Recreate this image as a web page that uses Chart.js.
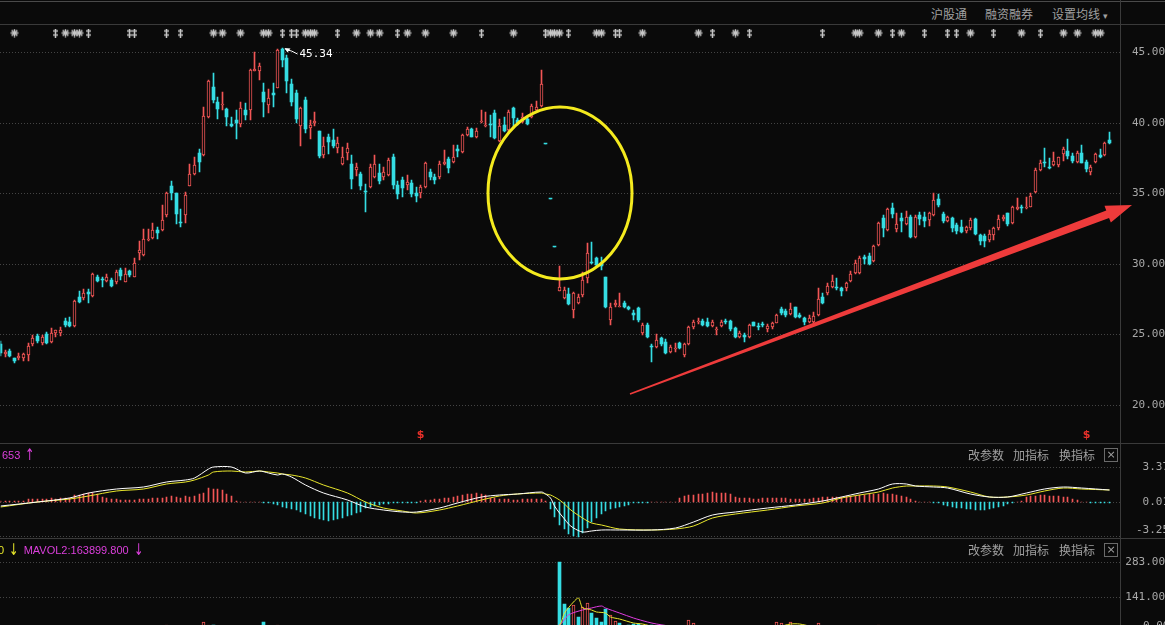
<!DOCTYPE html>
<html>
<head>
<meta charset="utf-8">
<script src="https://cdn.jsdelivr.net/npm/chart.js@4.4.1/dist/chart.umd.min.js"></script>
<style>
  body { margin: 0; background: #0a0a0a; width: 1165px; height: 625px; overflow: hidden; position: relative; font-family: "Noto Sans CJK SC", sans-serif; }
  .a { position: absolute; white-space: nowrap; }
  .hline { position: absolute; left: 0; width: 1165px; height: 1px; background: #3a3a3a; }
  .menu { color: #a0a0a0; font-size: 12px; line-height: 14px; }
  .num { font-family: "Liberation Sans", sans-serif; font-size: 11px; line-height: 13px; }
  .arr { display: inline-block; font: 16px/13px "DejaVu Sans", sans-serif; transform: scaleX(0.7); vertical-align: -1px; }
  .box { position: absolute; width: 12px; height: 12px; border: 1px solid #6a6a6a; color: #a0a0a0; font: 11px/12px "DejaVu Sans", sans-serif; text-align: center; }
  canvas { position: absolute; left: 0; }
</style>
</head>
<body>
<div class="hline" style="top:1px;background:#4a4a4a"></div>
<div class="hline" style="top:24px"></div>
<div class="hline" style="top:443px"></div>
<div class="hline" style="top:538px"></div>
<div class="a" style="left:1120px;top:0;width:1px;height:625px;background:#3a3a3a"></div>

<div class="a menu" style="left:931px;top:7px">沪股通</div>
<div class="a menu" style="left:985px;top:7px">融资融券</div>
<div class="a menu" style="left:1052px;top:7px">设置均线 <span style="font-size:9px">▾</span></div>

<canvas id="main" width="1165" height="419" style="top:24px"></canvas>
<canvas id="macd" width="1165" height="94" style="top:444px"></canvas>
<canvas id="vol" width="1165" height="86" style="top:539px"></canvas>

<div class="a num" style="left:2px;top:448px;color:#dd3fdd">653 <span class="arr">↑</span></div>
<div class="a menu" style="left:968px;top:448px">改参数</div>
<div class="a menu" style="left:1013px;top:448px">加指标</div>
<div class="a menu" style="left:1059px;top:448px">换指标</div>
<div class="box" style="left:1104px;top:448px">×</div>

<div class="a num" style="left:-2px;top:543px"><span style="color:#e6e62a">0 <span class="arr">↓</span></span> <span style="color:#dd3fdd">MAVOL2:163899.800 <span class="arr">↓</span></span></div>
<div class="a menu" style="left:968px;top:543px">改参数</div>
<div class="a menu" style="left:1013px;top:543px">加指标</div>
<div class="a menu" style="left:1059px;top:543px">换指标</div>
<div class="box" style="left:1104px;top:543px">×</div>
<div class="a" style="left:1143px;top:619px;color:#a8a8a8;font:11px 'DejaVu Sans Mono',monospace">0.00</div>

<script>
// daily candles, left to right
const open = [
  24.3, 23.6, 23.8, 23.3, 23.3, 23.3, 23.55, 24.3, 24.9, 24.4,
  25.05, 24.45, 25.1, 25.1, 25.95, 25.9, 25.6, 27.65, 27.55, 28.0,
  27.7, 29.1, 28.95, 28.8, 28.85, 28.7, 29.55, 28.75, 29.5, 29.1,
  30.75, 30.65, 31.7, 31.85, 32.4, 32.4, 33.5, 35.5, 35.0, 33.0,
  33.5, 35.55, 36.4, 37.9, 37.7, 40.4, 42.58, 41.5, 41.25, 41.0,
  39.9, 40.2, 39.93, 40.9, 40.9, 43.7, 43.7, 42.2, 41.3, 42.15,
  42.5, 45.25, 44.6, 42.75, 42.15, 39.8, 41.6, 39.62, 39.97, 39.4,
  37.7, 39.0, 38.8, 38.25, 37.1, 37.85, 37.1, 36.67, 36.38, 35.2,
  35.43, 36.15, 36.43, 36.2, 36.3, 37.6, 35.6, 35.96, 35.6, 35.72,
  35.01, 35.01, 35.48, 36.55, 36.19, 36.15, 37.1, 37.42, 37.26, 38.13,
  37.97, 39.15, 39.55, 39.03, 40.05, 39.79, 39.96, 40.69, 38.75, 39.86,
  39.5, 41.04, 40.21, 40.1, 40.26, 40.45, 40.92, 41.23, 38.49, 34.64,
  31.18, 28.06, 27.57, 27.87, 26.74, 27.26, 27.8, 28.98, 30.17, 30.4,
  30.05, 29.05, 26.03, 27.12, 26.95, 27.21, 26.97, 26.55, 26.86, 25.08,
  25.67, 24.18, 24.09, 24.73, 24.49, 23.78, 23.95, 24.37, 23.55, 24.33,
  25.51, 25.89, 25.98, 25.91, 25.60, 25.32, 25.60, 25.98, 25.96, 25.48,
  24.80, 24.96, 24.80, 25.86, 25.63, 25.74, 25.37, 25.51, 25.84, 26.78,
  26.67, 26.45, 26.93, 26.38, 26.15, 25.91, 25.91, 26.38, 27.68, 27.92,
  28.39, 28.35, 28.27, 28.27, 28.82, 29.34, 29.39, 30.52, 30.57, 30.24,
  31.35, 33.24, 32.41, 33.95, 32.46, 33.24, 32.84, 33.36, 31.89, 33.48,
  33.36, 33.12, 33.48, 34.59, 33.55, 33.07, 33.24, 32.77, 32.60, 32.34,
  32.53, 33.17, 32.06, 31.99, 31.70, 32.06, 32.53, 33.17, 33.59, 32.93,
  33.88, 34.07, 33.95, 34.07, 35.13, 36.67, 37.26, 36.90, 37.02, 37.02,
  37.80, 38.04, 37.66, 37.26, 37.85, 37.26, 36.55, 37.26, 37.73, 37.73,
  38.79
];
const high = [
  24.5, 23.9, 24.0, 23.35, 23.65, 23.7, 24.4, 24.95, 25.0, 24.95,
  25.2, 25.45, 25.35, 25.5, 26.2, 26.25, 27.45, 28.05, 28.25, 28.25,
  29.35, 29.2, 29.1, 29.3, 29.0, 29.55, 29.7, 29.7, 29.6, 30.45,
  31.6, 32.5, 32.5, 32.9, 32.65, 34.2, 35.1, 35.9, 35.05, 33.9,
  35.1, 37.1, 37.6, 38.15, 41.15, 43.05, 43.55, 41.85, 42.2, 41.05,
  40.45, 40.9, 41.5, 41.4, 43.8, 45.0, 44.25, 42.85, 42.4, 42.85,
  45.25, 45.34, 44.8, 43.15, 42.35, 41.15, 41.85, 40.2, 40.8, 39.45,
  39.0, 39.2, 39.55, 39.0, 38.3, 38.55, 37.75, 37.15, 36.55, 35.7,
  37.1, 37.75, 37.1, 36.85, 37.5, 37.8, 35.9, 36.19, 36.3, 35.96,
  35.48, 35.6, 37.26, 36.7, 36.38, 37.33, 38.09, 37.56, 38.44, 38.44,
  39.2, 39.74, 39.67, 39.62, 40.92, 40.8, 40.57, 40.92, 40.26, 40.45,
  40.92, 41.16, 40.33, 40.69, 40.4, 41.35, 41.58, 43.76, 38.49, 34.64,
  31.18, 29.86, 28.35, 28.27, 28.04, 27.87, 29.46, 31.47, 31.58, 30.52,
  30.52, 29.1, 27.21, 27.45, 27.92, 27.38, 27.02, 26.74, 26.97, 25.79,
  25.79, 24.33, 25.04, 24.8, 24.66, 24.26, 24.37, 24.45, 24.42, 25.60,
  26.03, 26.15, 26.08, 26.15, 26.03, 25.56, 26.03, 26.08, 26.03, 25.56,
  25.27, 25.08, 25.74, 25.91, 25.79, 25.91, 25.74, 25.91, 26.45, 26.97,
  26.78, 27.21, 26.97, 26.50, 26.26, 26.38, 26.62, 28.27, 27.92, 28.63,
  29.22, 28.98, 28.39, 28.75, 29.53, 30.28, 30.57, 30.64, 30.80, 31.35,
  33.00, 33.48, 33.95, 34.30, 33.64, 33.59, 33.78, 33.48, 33.48, 33.71,
  33.71, 33.71, 35.01, 34.96, 33.71, 33.40, 33.36, 32.88, 33.12, 32.70,
  33.24, 33.24, 32.13, 32.13, 32.41, 32.60, 33.48, 33.48, 33.64, 34.11,
  34.66, 34.18, 34.78, 35.01, 36.78, 37.38, 38.20, 37.49, 37.97, 37.61,
  38.27, 38.84, 37.85, 38.04, 38.44, 37.38, 37.02, 37.89, 38.13, 38.68,
  39.39
];
const low = [
  23.5, 23.4, 23.4, 23.0, 23.2, 23.15, 23.15, 24.2, 24.4, 24.25,
  24.3, 24.4, 24.85, 24.9, 25.5, 25.5, 25.5, 27.2, 27.45, 27.2,
  27.65, 28.7, 28.35, 28.7, 28.35, 28.6, 28.85, 28.7, 29.05, 29.05,
  30.25, 30.55, 31.65, 31.8, 31.75, 32.35, 33.35, 34.55, 32.85, 32.6,
  32.9, 35.5, 36.3, 36.5, 37.65, 40.33, 41.45, 40.25, 40.9, 39.75,
  39.7, 38.85, 39.7, 40.2, 40.2, 43.7, 43.05, 40.4, 40.7, 41.15,
  42.45, 44.0, 42.1, 41.2, 40.0, 38.35, 39.3, 38.85, 39.8, 37.55,
  37.55, 37.8, 38.25, 37.9, 37.0, 37.4, 35.35, 36.25, 35.25, 33.65,
  35.37, 36.1, 35.7, 35.95, 36.25, 35.3, 34.6, 34.78, 35.25, 34.78,
  34.42, 34.66, 35.37, 35.96, 35.67, 36.0, 37.02, 36.43, 37.19, 37.61,
  37.9, 39.08, 38.98, 38.96, 39.98, 39.74, 39.03, 38.84, 38.68, 39.39,
  39.39, 39.62, 39.86, 39.98, 39.86, 40.33, 40.8, 41.16, 38.49, 34.64,
  31.18, 28.06, 27.5, 27.09, 26.15, 27.16, 27.68, 28.68, 30.0, 29.81,
  29.57, 26.85, 25.67, 26.97, 26.92, 26.85, 26.74, 26.03, 25.91, 24.96,
  24.73, 23.07, 24.02, 24.18, 23.61, 23.66, 23.78, 23.95, 23.43, 24.26,
  25.37, 25.74, 25.60, 25.56, 25.51, 24.96, 25.56, 25.72, 25.27, 24.73,
  24.73, 24.49, 24.73, 25.60, 25.32, 25.56, 25.20, 25.37, 25.79, 26.38,
  26.22, 26.38, 26.15, 26.15, 25.67, 25.84, 25.79, 26.31, 27.16, 27.80,
  28.27, 28.16, 27.73, 28.11, 28.75, 29.29, 29.29, 30.00, 29.93, 30.17,
  31.28, 31.94, 32.34, 33.24, 32.29, 32.29, 32.77, 31.87, 31.82, 32.77,
  32.65, 32.70, 33.40, 34.07, 32.88, 33.00, 32.29, 32.13, 32.17, 32.22,
  32.41, 32.06, 31.35, 31.23, 31.58, 31.70, 32.41, 33.07, 32.70, 32.84,
  33.83, 33.64, 33.88, 34.02, 35.06, 36.62, 36.90, 36.71, 36.95, 36.90,
  37.33, 37.42, 37.19, 37.19, 37.14, 36.55, 36.31, 37.19, 37.49, 37.66,
  38.51
];
const close = [
  23.7, 23.75, 23.5, 23.15, 23.5, 23.6, 24.2, 24.75, 24.5, 24.85,
  24.4, 25.1, 25.3, 25.35, 25.65, 25.6, 27.4, 27.3, 27.95, 27.9,
  29.3, 28.8, 28.85, 29.1, 28.45, 29.4, 29.15, 29.3, 29.2, 30.1,
  31.0, 31.8, 31.8, 32.4, 32.2, 33.15, 35.0, 35.05, 33.55, 32.9,
  34.9, 36.4, 37.0, 37.25, 40.5, 43.0, 41.6, 41.0, 41.35, 40.45,
  39.8, 39.97, 41.05, 40.55, 43.75, 43.8, 44.05, 41.5, 41.75, 42.0,
  45.2, 44.45, 42.95, 41.5, 40.25, 41.05, 39.55, 39.85, 40.15, 37.65,
  38.35, 38.65, 38.35, 38.55, 37.6, 38.2, 36.05, 36.85, 35.5, 35.1,
  36.85, 37.1, 35.85, 36.55, 37.4, 35.6, 34.95, 35.37, 35.84, 34.96,
  34.8, 35.48, 37.14, 36.15, 35.96, 37.1, 37.26, 36.78, 37.61, 37.99,
  39.15, 39.55, 39.03, 39.46, 40.1, 39.86, 39.85, 38.91, 39.79, 39.46,
  40.8, 40.33, 39.98, 40.45, 39.93, 41.2, 41.16, 42.74, 38.49, 34.64,
  31.18, 28.39, 28.16, 27.16, 27.92, 27.64, 28.87, 30.76, 30.05, 29.93,
  29.86, 26.92, 26.97, 27.21, 27.04, 26.97, 26.79, 26.38, 26.03, 25.67,
  24.85, 24.09, 24.61, 24.33, 23.71, 24.14, 24.06, 24.02, 24.33, 25.51,
  25.91, 25.98, 25.67, 25.60, 25.91, 25.37, 25.91, 25.89, 25.37, 24.85,
  25.13, 24.85, 25.67, 25.63, 25.51, 25.70, 25.60, 25.84, 26.38, 26.55,
  26.38, 26.78, 26.22, 26.26, 25.91, 26.15, 26.31, 27.49, 27.26, 28.44,
  28.82, 28.27, 28.11, 28.63, 29.29, 30.05, 30.40, 30.33, 30.00, 31.28,
  32.93, 32.53, 33.88, 33.55, 32.84, 33.07, 33.36, 31.94, 33.36, 33.17,
  33.07, 33.64, 34.54, 34.18, 33.07, 33.31, 32.53, 32.36, 32.27, 32.65,
  33.12, 32.13, 31.65, 31.65, 32.13, 32.53, 33.17, 33.31, 32.84, 34.07,
  34.02, 33.95, 34.02, 34.82, 36.67, 37.14, 37.14, 36.78, 37.33, 37.56,
  38.13, 37.66, 37.33, 37.89, 37.19, 36.71, 36.90, 37.80, 37.56, 38.61,
  38.56
];
// volume (the panel only shows the larger days)
const volume = [
  14, 12, 13, 11, 12, 12, 16, 17, 15, 14,
  15, 16, 13, 13, 15, 14, 22, 18, 16, 15,
  21, 15, 13, 13, 14, 16, 14, 15, 12, 18,
  20, 23, 17, 19, 15, 24, 26, 22, 25, 18,
  24, 23, 20, 22, 38, 26, 27, 21, 18, 19,
  15, 20, 21, 17, 25, 24, 19, 38, 22, 19,
  26, 24, 23, 21, 22, 24, 20, 16, 14, 19,
  15, 14, 13, 13, 14, 13, 18, 12, 14, 17,
  16, 15, 13, 12, 14, 16, 14, 13, 12, 13,
  12, 12, 18, 13, 11, 14, 13, 12, 14, 12,
  17, 15, 13, 12, 16, 14, 15, 18, 16, 13,
  16, 15, 12, 12, 11, 15, 13, 24, 6, 8,
  10, 283, 111, 98, 108, 61, 102, 115, 75, 54,
  41, 92, 68, 44, 34, 25, 28, 32, 30, 22,
  24, 26, 18, 14, 16, 12, 10, 11, 12, 47,
  37, 18, 14, 13, 12, 11, 13, 10, 14, 15,
  12, 11, 17, 13, 11, 10, 12, 13, 41, 35,
  20, 40, 24, 14, 13, 12, 16, 35, 22, 21,
  20, 17, 14, 15, 18, 22, 24, 17, 18, 21,
  26, 24, 23, 20, 18, 17, 16, 21, 20, 14,
  13, 15, 22, 16, 14, 12, 15, 13, 12, 11,
  13, 14, 12, 10, 12, 13, 15, 11, 14, 18,
  14, 12, 13, 17, 24, 22, 20, 15, 16, 17,
  18, 21, 16, 15, 17, 14, 12, 16, 13, 18,
  17
];
const vma5Idx = [118, 121, 122, 124, 125, 126, 127, 128, 129, 131, 132, 134, 137, 139, 142, 168, 171, 173, 176];
const vma5 = [15, 28, 75, 122, 136, 95, 92, 88, 79, 75, 61, 52, 34, 30, 20, 18, 30, 30, 20];
const vma10Idx = [118, 121, 123, 126, 128, 130, 131, 134, 137, 140, 142, 146];
const vma10 = [14, 27, 68, 88, 98, 106, 98, 75, 55, 41, 30, 18];

// MACD
const macdHist = [
  0.1, 0.1, 0.12, 0.1, 0.12, 0.15, 0.3, 0.32, 0.35, 0.33,
  0.35, 0.38, 0.36, 0.38, 0.4, 0.42, 0.7, 0.75, 0.8, 0.9,
  0.94, 0.85, 0.55, 0.45, 0.35, 0.3, 0.25, 0.2, 0.2, 0.22,
  0.3, 0.32, 0.35, 0.4, 0.38, 0.4, 0.55, 0.6, 0.5, 0.45,
  0.6, 0.5, 0.65, 0.8, 0.95, 1.35, 1.3, 1.25, 1.15, 0.8,
  0.65, 0.1, 0.05, 0.03, 0.08, 0.05, 0.03, -0.05, -0.1, -0.15,
  -0.25, -0.4, -0.55, -0.6, -0.75, -0.9, -1.15, -1.3, -1.45, -1.6,
  -1.7, -1.75, -1.7, -1.55, -1.45, -1.3, -1.2, -1.0, -0.9, -0.55,
  -0.4, -0.3, -0.25, -0.15, -0.12, -0.1, -0.1, -0.08, -0.05, -0.05,
  -0.02, 0.15, 0.2, 0.25, 0.3, 0.35, 0.4, 0.45, 0.5, 0.65,
  0.75, 0.8, 0.85, 0.9, 0.85, 0.75, 0.45, 0.4, 0.35, 0.3,
  0.3, 0.25, 0.25, 0.3, 0.3, 0.35, 0.3, 0.3, 0.1, -0.6,
  -1.4, -2.2, -2.6, -3.0, -3.2, -3.3, -2.9, -2.5, -1.9, -1.5,
  -1.1, -0.85, -0.65, -0.5, -0.4, -0.3, -0.25, -0.1, -0.08, -0.05,
  -0.03, 0.02, 0.02, 0.03, 0.05, 0.05, 0.08, 0.45, 0.6, 0.7,
  0.75, 0.8, 0.85, 0.95, 1.0, 0.95, 0.95, 0.9, 0.85, 0.5,
  0.45, 0.4, 0.4, 0.35, 0.35, 0.4, 0.4, 0.4, 0.45, 0.4,
  0.4, 0.35, 0.35, 0.3, 0.3, 0.35, 0.4, 0.45, 0.5, 0.55,
  0.5, 0.55, 0.55, 0.6, 0.6, 0.65, 0.7, 0.75, 0.8, 0.85,
  0.85, 0.9, 0.85, 0.8, 0.7, 0.6, 0.5, 0.3, 0.1, 0.05,
  0.03, 0.02, -0.02, -0.05, -0.25, -0.35, -0.4, -0.5, -0.55, -0.6,
  -0.65, -0.7, -0.75, -0.7, -0.65, -0.55, -0.45, -0.35, -0.2, -0.05,
  0.05, 0.1, 0.55, 0.6, 0.65, 0.7, 0.7, 0.65, 0.65, 0.6,
  0.55, 0.5, 0.35, 0.2, 0.05, 0.03, -0.03, -0.05, -0.05, -0.08,
  -0.05
];
const macdIdx = [0, 8, 15, 19, 25, 31, 36, 40, 42, 45, 46, 50, 53, 56, 58, 60, 61, 63, 66, 70, 75, 79, 83, 87, 90, 95, 99, 104, 108, 112, 117, 118, 119, 120, 121, 122, 123, 124, 126, 128, 130, 134, 141, 146, 150, 154, 159, 166, 172, 178, 182, 186, 190, 193, 196, 198, 202, 205, 210, 214, 218, 222, 226, 230, 234, 240];
const dif = [-0.35, 0.05, 0.45, 0.87, 1.26, 1.45, 2.0, 2.15, 2.31, 3.18, 3.43, 3.37, 2.79, 3.05, 2.86, 2.63, 2.75, 2.41, 1.67, 0.87, 0.23, -0.41, -0.73, -0.89, -0.95, -0.57, -0.09, 0.49, 0.71, 0.81, 1.03, 0.85, 0.39, -0.3, -1.0, -1.6, -2.1, -2.45, -2.8, -2.75, -2.68, -2.65, -2.65, -2.49, -1.85, -1.21, -0.89, -0.57, -0.25, 0.17, 0.55, 0.87, 1.26, 1.74, 1.74, 1.58, 1.51, 1.35, 0.81, 0.49, 0.55, 0.94, 1.26, 1.45, 1.35, 1.19];
const dea = [-0.41, 0.02, 0.32, 0.62, 1.13, 1.32, 1.74, 1.93, 2.15, 2.63, 2.89, 3.05, 2.95, 3.02, 2.92, 2.83, 2.76, 2.63, 2.31, 1.67, 0.87, 0.07, -0.5, -0.79, -0.98, -0.73, -0.34, 0.23, 0.62, 0.78, 0.87, 0.85, 0.71, 0.5, 0.2, -0.2, -0.57, -0.95, -1.53, -1.95, -2.17, -2.55, -2.65, -2.58, -2.26, -1.53, -1.11, -0.73, -0.34, -0.02, 0.39, 0.71, 1.03, 1.42, 1.58, 1.58, 1.55, 1.45, 1.03, 0.55, 0.49, 0.71, 1.13, 1.35, 1.26, 1.19];

// info-mine markers along the top and buy/sell signals
const starIdx = [3, 14, 16, 17, 46, 48, 52, 57, 58, 66, 67, 68, 77, 80, 82, 88, 92, 98, 111, 119, 120, 121, 129, 130, 139, 151, 159, 185, 186, 190, 195, 210, 221, 230, 233, 237, 238];
const daggerIdx = [12, 19, 28, 29, 36, 39, 61, 63, 64, 73, 86, 104, 118, 123, 133, 134, 154, 162, 178, 193, 200, 205, 207, 215, 225];
const signalIdx = [91, 235];

// tick values
const priceTicks = [20, 25, 30, 35, 40, 45];
const macdTicks = [-3.25, 0.01, 3.37];
const volTicks = [141, 283];

const BG = '#0a0a0a', RED = '#f25656', CYAN = '#35dde3', YEL = '#e8e62c', MAG = '#e03ce0';
const idx = close.map((_, i) => i);
const up = idx.map(i => close[i] > open[i] || (close[i] === open[i] && i > 0 && close[i] >= close[i - 1]));
const volUp = idx.map(i => i === 0 ? close[0] >= open[0] : close[i] >= close[i - 1]);

function glyph(draw) {
  const c = document.createElement('canvas');
  c.width = 9; c.height = 9;
  const g = c.getContext('2d');
  g.strokeStyle = '#c6c6c6'; g.lineWidth = 1.5;
  draw(g);
  return c;
}
const starImg = glyph(g => {
  for (let k = 0; k < 4; k++) {
    const t = k * Math.PI / 4;
    g.beginPath();
    g.moveTo(4.5 - 4 * Math.cos(t), 4.5 - 4 * Math.sin(t));
    g.lineTo(4.5 + 4 * Math.cos(t), 4.5 + 4 * Math.sin(t));
    g.stroke();
  }
});
const daggerImg = glyph(g => {
  g.beginPath();
  g.moveTo(4.5, 0); g.lineTo(4.5, 9);
  g.moveTo(2, 2.5); g.lineTo(7, 2.5);
  g.moveTo(2, 6.5); g.lineTo(7, 6.5);
  g.stroke();
});

// shift half a pixel so 1px wicks and 3px bodies land on whole pixels
const crisp = {
  id: 'crisp',
  beforeDatasetsDraw(chart) { chart.ctx.save(); chart.ctx.translate(0.5, 0); },
  afterDatasetsDraw(chart) { chart.ctx.restore(); }
};

// right-hand labels kept inside their panel (like the terminal does)
const sideLabels = {
  id: 'sideLabels',
  afterDraw(chart) {
    const { ctx, chartArea } = chart, y = chart.scales.y;
    ctx.save();
    ctx.fillStyle = '#a8a8a8'; ctx.font = '11px "DejaVu Sans Mono"';
    ctx.textAlign = 'right'; ctx.textBaseline = 'middle';
    y.ticks.forEach(t => {
      const py = Math.min(Math.max(y.getPixelForValue(t.value), chartArea.top + 7), chartArea.bottom - 8);
      ctx.fillText(t.value.toFixed(2), 1169, py);
    });
    ctx.restore();
  }
};

const base = {
  responsive: false, animation: false, devicePixelRatio: 1, events: [],
  layout: { padding: 0, autoPadding: false },
  plugins: { legend: { display: false }, tooltip: { enabled: false } }
};
const xAxis = { type: 'linear', min: 0, max: 242.4, offset: false, display: false, alignToPixels: true };
function yAxis(min, max, ticks, pad, showLabels = true) {
  return {
    position: 'right', min, max, alignToPixels: true,
    afterBuildTicks: s => { s.ticks = ticks.map(v => ({ value: v })); },
    afterFit: s => { s.width = 45; s.paddingTop = 0; s.paddingBottom = 0; },
    grid: { color: '#444444', drawTicks: false, lineWidth: 1 },
    border: { display: false, dash: [1, 2] },
    ticks: {
      display: showLabels,
      color: '#a8a8a8', padding: pad, crossAlign: 'far',
      font: { family: 'DejaVu Sans Mono', size: 11 },
      callback: v => Number(v).toFixed(2)
    }
  };
}

// hand-drawn notes on the price panel
const notes = {
  id: 'notes',
  afterDraw(chart) {
    const { ctx, chartArea } = chart, x = chart.scales.x, y = chart.scales.y;
    ctx.save();
    // highest price tag
    const hi = Math.max(...high), hx = x.getPixelForValue(high.indexOf(hi)) + 0.5, hy = y.getPixelForValue(hi);
    ctx.strokeStyle = '#ffffff'; ctx.fillStyle = '#ffffff'; ctx.lineWidth = 1;
    ctx.beginPath(); ctx.moveTo(hx + 3, hy + 1.5); ctx.lineTo(hx + 9, hy + 3); ctx.lineTo(hx + 15, hy + 6); ctx.stroke();
    ctx.beginPath(); ctx.moveTo(hx + 2, hy); ctx.lineTo(hx + 8, hy + 0.5); ctx.lineTo(hx + 5, hy + 4.5); ctx.closePath(); ctx.fill();
    ctx.font = '11px "DejaVu Sans Mono"'; ctx.textBaseline = 'middle';
    ctx.fillText(hi.toFixed(2), hx + 17, hy + 6.5);
    // signal marks
    ctx.fillStyle = '#e8302a'; ctx.font = 'bold 11px "DejaVu Sans"'; ctx.textAlign = 'center';
    signalIdx.forEach(i => ctx.fillText('$', x.getPixelForValue(i) + 0.5, chartArea.bottom - 8));
    // yellow circle round the gap
    const cx = x.getPixelForValue(121.2), cy = y.getPixelForValue(35.0);
    const rx = x.getPixelForValue(136.8) - cx, ry = y.getPixelForValue(35.0 - 6.06) - cy;
    ctx.strokeStyle = '#f4ea1e'; ctx.lineWidth = 3;
    ctx.beginPath(); ctx.ellipse(cx, cy, rx, ry, 0, 0, Math.PI * 2); ctx.stroke();
    // red trend arrow
    const x0 = x.getPixelForValue(136.4), y0 = y.getPixelForValue(20.78);
    const x1 = x.getPixelForValue(245.0), y1 = y.getPixelForValue(34.18);
    const len = Math.hypot(x1 - x0, y1 - y0), dx = (x1 - x0) / len, dy = (y1 - y0) / len;
    const nx = -dy, ny = dx, L = 26, bx = x1 - dx * L, by = y1 - dy * L;
    ctx.fillStyle = '#ee3b3b';
    ctx.beginPath();
    ctx.moveTo(x0 + nx * 0.8, y0 + ny * 0.8);
    ctx.lineTo(bx + nx * 4, by + ny * 4);
    ctx.lineTo(bx + nx * 9, by + ny * 9);
    ctx.lineTo(x1, y1);
    ctx.lineTo(bx - nx * 9, by - ny * 9);
    ctx.lineTo(bx - nx * 4, by - ny * 4);
    ctx.lineTo(x0 - nx * 0.8, y0 - ny * 0.8);
    ctx.closePath(); ctx.fill();
    ctx.restore();
  }
};

new Chart(document.getElementById('main'), {
  type: 'bar',
  data: {
    datasets: [
      { type: 'scatter', data: starIdx.map(i => ({ x: i, y: 46.38 })), pointStyle: starImg, pointRadius: 4, order: 0 },
      { type: 'scatter', data: daggerIdx.map(i => ({ x: i, y: 46.38 })), pointStyle: daggerImg, pointRadius: 4, order: 0 },
      {
        data: idx.map(i => ({ x: i, y: [open[i], close[i]] })),
        backgroundColor: idx.map(i => up[i] ? BG : CYAN),
        borderColor: idx.map(i => up[i] ? RED : CYAN),
        borderWidth: idx.map(i => up[i] ? 1 : 0),
        borderSkipped: false, barThickness: 3, minBarLength: 1, grouped: false, order: 1
      },
      {
        data: idx.map(i => ({ x: i, y: [low[i], high[i]] })),
        backgroundColor: idx.map(i => up[i] ? RED : CYAN),
        borderWidth: 0, barThickness: 1, grouped: false, order: 2
      }
    ]
  },
  options: { ...base, scales: { x: xAxis, y: yAxis(17.30, 47.02, priceTicks, 16) } },
  plugins: [crisp, notes]
});

new Chart(document.getElementById('macd'), {
  type: 'bar',
  data: {
    datasets: [
      { type: 'line', data: macdIdx.map((i, k) => ({ x: i, y: dif[k] })), borderColor: '#ffffff', borderWidth: 1, pointRadius: 0, tension: 0.3, order: 0 },
      { type: 'line', data: macdIdx.map((i, k) => ({ x: i, y: dea[k] })), borderColor: YEL, borderWidth: 1, pointRadius: 0, tension: 0.3, order: 0 },
      {
        data: macdHist.map((v, i) => ({ x: i, y: v })),
        backgroundColor: macdHist.map(v => v >= 0 ? RED : CYAN),
        barThickness: 1, grouped: false, order: 1
      }
    ]
  },
  options: { ...base, scales: { x: xAxis, y: yAxis(-3.417, 5.607, macdTicks, 16, false) } },
  plugins: [crisp, sideLabels]
});

new Chart(document.getElementById('vol'), {
  type: 'bar',
  data: {
    datasets: [
      { type: 'line', data: vma5Idx.map((i, k) => ({ x: i, y: vma5[k] })), borderColor: YEL, borderWidth: 1, pointRadius: 0, tension: 0.25, order: 0 },
      { type: 'line', data: vma10Idx.map((i, k) => ({ x: i, y: vma10[k] })), borderColor: MAG, borderWidth: 1, pointRadius: 0, tension: 0.3, order: 0 },
      {
        data: volume.map((v, i) => ({ x: i, y: v })),
        backgroundColor: idx.map(i => volUp[i] ? BG : CYAN),
        borderColor: idx.map(i => volUp[i] ? RED : CYAN),
        borderWidth: idx.map(i => volUp[i] ? 1 : 0),
        borderSkipped: false, barThickness: 3, grouped: false, order: 1
      }
    ]
  },
  options: { ...base, scales: { x: xAxis, y: yAxis(27.4, 376.3, volTicks, 10) } },
  plugins: [crisp]
});
</script>
</body>
</html>
